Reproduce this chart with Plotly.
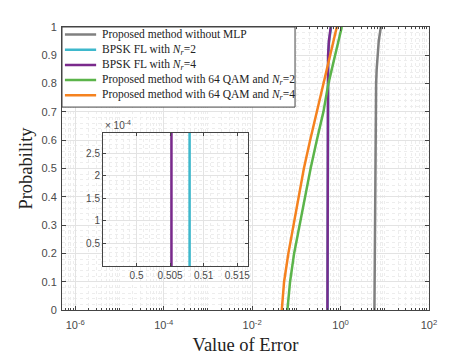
import plotly.graph_objects as go

# ---- data ----
prob = [0.0, 0.1, 0.2, 0.3, 0.4, 0.5, 0.6, 0.7, 0.8, 0.85, 0.9, 0.95, 1.0]

err_no_mlp = [5.83, 5.9, 5.95, 6.0, 6.02, 6.05, 6.1, 6.2, 6.37, 6.55, 6.82, 7.3, 8.14]
err_bpsk_nr2 = [0.5079, 0.5079, 0.5079, 0.5079, 0.5079, 0.5079, 0.5079, 0.508, 0.5085, 0.512, 0.525, 0.55, 0.61]
err_bpsk_nr4 = [0.5052, 0.5052, 0.5052, 0.5052, 0.5052, 0.5052, 0.5052, 0.5053, 0.5058, 0.51, 0.522, 0.545, 0.60]
err_qam_nr2 = [0.0627, 0.0721, 0.089, 0.117, 0.158, 0.210, 0.290, 0.409, 0.531, 0.63, 0.752, 0.89, 1.066]
err_qam_nr4 = [0.0468, 0.0528, 0.066, 0.0857, 0.111, 0.148, 0.205, 0.290, 0.409, 0.49, 0.579, 0.69, 0.822]

x_tick_vals = [1e-6, 1e-4, 1e-2, 1e0, 1e2]
x_tick_text = ["10<sup>-6</sup>", "10<sup>-4</sup>", "10<sup>-2</sup>",
               "10<sup>0</sup>", "10<sup>2</sup>"]
inset_x_ticks = [0.5, 0.505, 0.51, 0.515]
inset_x_text = ["0.5", "0.505", "0.51", "0.515"]
inset_y_ticks = [0.5e-4, 1e-4, 1.5e-4, 2e-4, 2.5e-4]
inset_y_text = ["0.5", "1", "1.5", "2", "2.5"]

names = ["Proposed method without MLP",
         "BPSK FL with <i>N<sub>r</sub></i>=2",
         "BPSK FL with <i>N<sub>r</sub></i>=4",
         "Proposed method with 64 QAM and <i>N<sub>r</sub></i>=2",
         "Proposed method with 64 QAM and <i>N<sub>r</sub></i>=4"]
colors = ["#808080", "#3EB8CC", "#7A2A8C", "#5BB44A", "#F5821F"]
series = [err_no_mlp, err_bpsk_nr2, err_bpsk_nr4, err_qam_nr2, err_qam_nr4]

# minor log ticks / grid (every 1..9 x 10^d, except labelled decades)
minor_x = [k * 10.0 ** d for d in range(-7, 2) for k in range(1, 10)
           if not (k == 1 and d % 2 == 0)]

fig = go.Figure()
for nm, col, ys in zip(names, colors, series):
    fig.add_trace(go.Scatter(x=ys, y=prob, mode="lines", name=nm,
                             line=dict(color=col, width=2.5),
                             xaxis="x", yaxis="y", showlegend=False))

# inset traces (same data, zoomed)
for col, ys in [(colors[1], err_bpsk_nr2), (colors[2], err_bpsk_nr4)]:
    fig.add_trace(go.Scatter(x=ys, y=prob, mode="lines", showlegend=False,
                             line=dict(color=col, width=2.5),
                             xaxis="x2", yaxis="y2"))

tickfont = dict(family="Liberation Sans, Arial", size=11, color="#4a4a4a")
inset_tickfont = dict(family="Liberation Sans, Arial", size=10, color="#4a4a4a")
serif = "Liberation Serif, Times New Roman"
grid = "#e3e3e3"
minor_grid = "#ededed"

# the page body adds an 8px offset; the figure is sized to fit the window
fig.update_layout(
    width=466, height=347,
    margin=dict(l=54, r=45, t=19, b=45),
    paper_bgcolor="white", plot_bgcolor="white",
    xaxis=dict(type="log", range=[-6.3, 2], tickmode="array",
               tickvals=x_tick_vals, ticktext=x_tick_text,
               showgrid=True, gridcolor=grid, gridwidth=1,
               ticks="inside", ticklen=4, tickcolor="#444",
               showline=True, linecolor="#444", linewidth=1, mirror="ticks",
               minor=dict(ticks="inside", ticklen=2, tickcolor="#444", showgrid=True,
                          gridcolor=minor_grid, griddash="dot",
                          tickmode="array", tickvals=minor_x),
               tickfont=tickfont, zeroline=False, ticklabelstandoff=5, automargin=False,
               title=dict(text="Value of Error", standoff=7,
                          font=dict(family=serif, size=18.5, color="#222"))),
    yaxis=dict(range=[0, 1], dtick=0.1, showgrid=True, gridcolor=grid,
               ticks="inside", ticklen=4, tickcolor="#444",
               showline=True, linecolor="#444", linewidth=1, mirror="ticks",
               minor=dict(dtick=0.02, showgrid=True, gridcolor=minor_grid, griddash="dot"),
               tickfont=tickfont, zeroline=False, ticklabelstandoff=2, automargin=False,
               title=dict(text="Probability", standoff=4,
                          font=dict(family=serif, size=18.5, color="#222"))),
    xaxis2=dict(domain=[0.1117, 0.5068], anchor="y2", range=[0.495, 0.5166],
                tickvals=inset_x_ticks, ticktext=inset_x_text,
                showgrid=True, gridcolor=grid, ticks="inside", ticklen=3, tickcolor="#444",
                showline=True, linecolor="#444", linewidth=1, mirror="ticks",
                minor=dict(dtick=0.001, showgrid=True, gridcolor=minor_grid, griddash="dot"),
                tickfont=inset_tickfont, zeroline=False, automargin=False),
    yaxis2=dict(domain=[0.1555, 0.6254], anchor="x2", range=[0, 2.95e-4],
                tickvals=inset_y_ticks, ticktext=inset_y_text,
                showgrid=True, gridcolor=grid, ticks="inside", ticklen=3, tickcolor="#444",
                showline=True, linecolor="#444", linewidth=1, mirror="ticks",
                minor=dict(dtick=0.1e-4, showgrid=True, gridcolor=minor_grid, griddash="dot"),
                tickfont=inset_tickfont, zeroline=False, automargin=False),
    showlegend=False,
)

fig.add_annotation(text="\u00d7 10<sup>-4</sup>", xref="x2 domain", yref="y2 domain",
                   x=0.0, y=1.0, xanchor="left", yanchor="bottom", showarrow=False,
                   font=inset_tickfont)

# ---- legend box (compact, MATLAB-style) in paper coordinates ----
leg_x0, leg_x1 = 0.0, 0.635
leg_y1, leg_y0 = 1.0, 0.717
first_y, step_y = 0.9735, 0.0537
key_x0, key_x1, text_x = 0.008, 0.093, 0.1035
fig.add_shape(type="rect", xref="paper", yref="paper", x0=leg_x0, x1=leg_x1,
              y0=leg_y0, y1=leg_y1, line=dict(color="#444", width=1),
              fillcolor="white", layer="above")
for i, (nm, col) in enumerate(zip(names, colors)):
    yy = first_y - i * step_y
    fig.add_shape(type="line", xref="paper", yref="paper", x0=key_x0, x1=key_x1,
                  y0=yy, y1=yy, line=dict(color=col, width=2.5), layer="above")
    fig.add_annotation(text=nm, xref="paper", yref="paper", x=text_x, y=yy,
                       xanchor="left", yanchor="middle", showarrow=False,
                       font=dict(family=serif, size=11.5, color="#222"))

fig.write_html("out.html")
